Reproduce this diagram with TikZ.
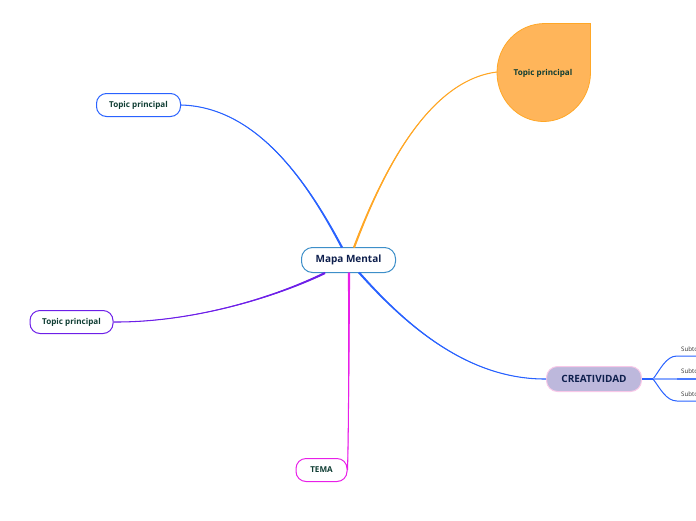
\documentclass[tikz,border=0pt]{standalone}
\usepackage{fontspec}
\setmainfont{Open Sans}
\usetikzlibrary{calc}
\definecolor{cblue}{HTML}{2962FF}
\definecolor{corange}{HTML}{FFA726}
\definecolor{cfill}{HTML}{FFB55A}
\definecolor{cpurple}{HTML}{6D1FE8}
\definecolor{cmag}{HTML}{E81FE8}
\definecolor{ccenter}{HTML}{3D8FC9}
\definecolor{cpink}{HTML}{F8C8E8}
\definecolor{clav}{HTML}{BDB8DC}
\definecolor{cnavy}{HTML}{0E1F4D}
\definecolor{cgreen}{HTML}{0F3D33}
\definecolor{cgrey}{HTML}{333333}
\tikzset{
  x=1pt,y=-1pt,
  pill/.style={draw,fill=white,rounded corners=10pt,line width=1pt,minimum height=23pt,inner sep=0pt,text=cgreen,font=\fontsize{8.1}{10}\selectfont\bfseries},
  subline/.style={line width=1pt,cblue},
  subtext/.style={font=\fontsize{6.2}{8}\selectfont,text=cgrey,anchor=west,inner sep=0pt},
}
% colour, start, control 1, control 2, end, half-width normal at the end
\newcommand{\taperline}[6]{%
  \fill[#1] (#2) .. controls ($(#3)+0.2*(#6)$) and ($(#4)+0.6*(#6)$) .. ($(#5)+(#6)$)
    -- ($(#5)-(#6)$) .. controls ($(#4)-0.6*(#6)$) and ($(#3)-0.2*(#6)$) .. (#2) -- cycle;
  \draw[#1,line width=1.05pt] (#2) .. controls (#3) and (#4) .. (#5);
}
\begin{document}
\begin{tikzpicture}
\useasboundingbox (0,0) rectangle (696,520);
\node[pill,draw=ccenter,text=cnavy,minimum width=94pt,minimum height=25pt,rounded corners=11pt,font=\fontsize{10}{12}\selectfont\bfseries] (c) at (348.5,260) {\raisebox{-2pt}{Mapa Mental}};
\node[pill,draw=cblue,minimum width=84pt] (tl) at (138.5,105) {\raisebox{-1.2pt}{Topic principal}};
\node[pill,draw=cpurple,minimum width=83pt] (pl) at (71.5,322) {\raisebox{-1.2pt}{Topic principal}};
\node[pill,draw=cmag,minimum width=51pt] (te) at (321.5,470) {\raisebox{-1pt}{TEMA}};
\node[pill,draw=cpink,fill=clav,text=cnavy,minimum width=95pt,minimum height=25pt,rounded corners=11pt,font=\fontsize{10}{12}\selectfont\bfseries] (cr) at (594,379) {\raisebox{-.6pt}{CREATIVIDAD}};
\coordinate (ol) at (497,72);
\path[draw=corange,fill=cfill,line width=.8pt] (590.5,23.5) -- (590.5,72.5)
  .. controls (590.5,99.5) and (569,121.5) .. (543.5,121.5)
  .. controls (518,121.5) and (497,99.5) .. (497,72.5)
  .. controls (497,45.5) and (518,23.5) .. (545,23.5) -- cycle;
\node[text=cgreen,font=\fontsize{8.1}{10}\selectfont\bfseries,inner sep=0pt] (or) at (543,73) {Topic principal};
\coordinate (e1) at (342,247.5);
\coordinate (e2) at (354,247.5);
\coordinate (e3) at (325,273);
\coordinate (e4) at (349,272.5);
\coordinate (e5) at (359,272.5);
\taperline{cblue}{tl.east}{260,107}{311,189}{e1}{.95,-.5}
\taperline{corange}{ol}{431,80}{385,165}{e2}{1,.37}
\taperline{cpurple}{pl.east}{190,322.5}{271,299}{e3}{.45,1}
\taperline{cmag}{te.east}{348.5,440}{349,350}{e4}{1.1,0}
\taperline{cblue}{cr.west}{471,379.5}{410,330}{e5}{.8,-.7}
% subtopics
\coordinate (f) at (653,379);
\coordinate (s1) at (696,356);
\coordinate (s2) at (696,379);
\coordinate (s3) at (696,401);
\coordinate (k1) at (677,356);
\coordinate (k2) at (677,379);
\coordinate (k3) at (677,401);
\draw[line width=1.6pt,cblue] (cr.east) -- (f);
\draw[subline] (f) .. controls (660,370) and (666,356) .. (k1) -- (s1);
\draw[line width=1.3pt,cblue!55] (f) -- (k2);
\draw[line width=1.3pt,cblue!85] (k2) -- (s2);
\draw[subline] (f) .. controls (660,388) and (666,401) .. (k3) -- (s3);
\node[subtext] (t1) at (681,349) {Subto};
\node[subtext] (t2) at (681,371.5) {Subto};
\node[subtext] (t3) at (681,394.5) {Subto};
\end{tikzpicture}
\end{document}
